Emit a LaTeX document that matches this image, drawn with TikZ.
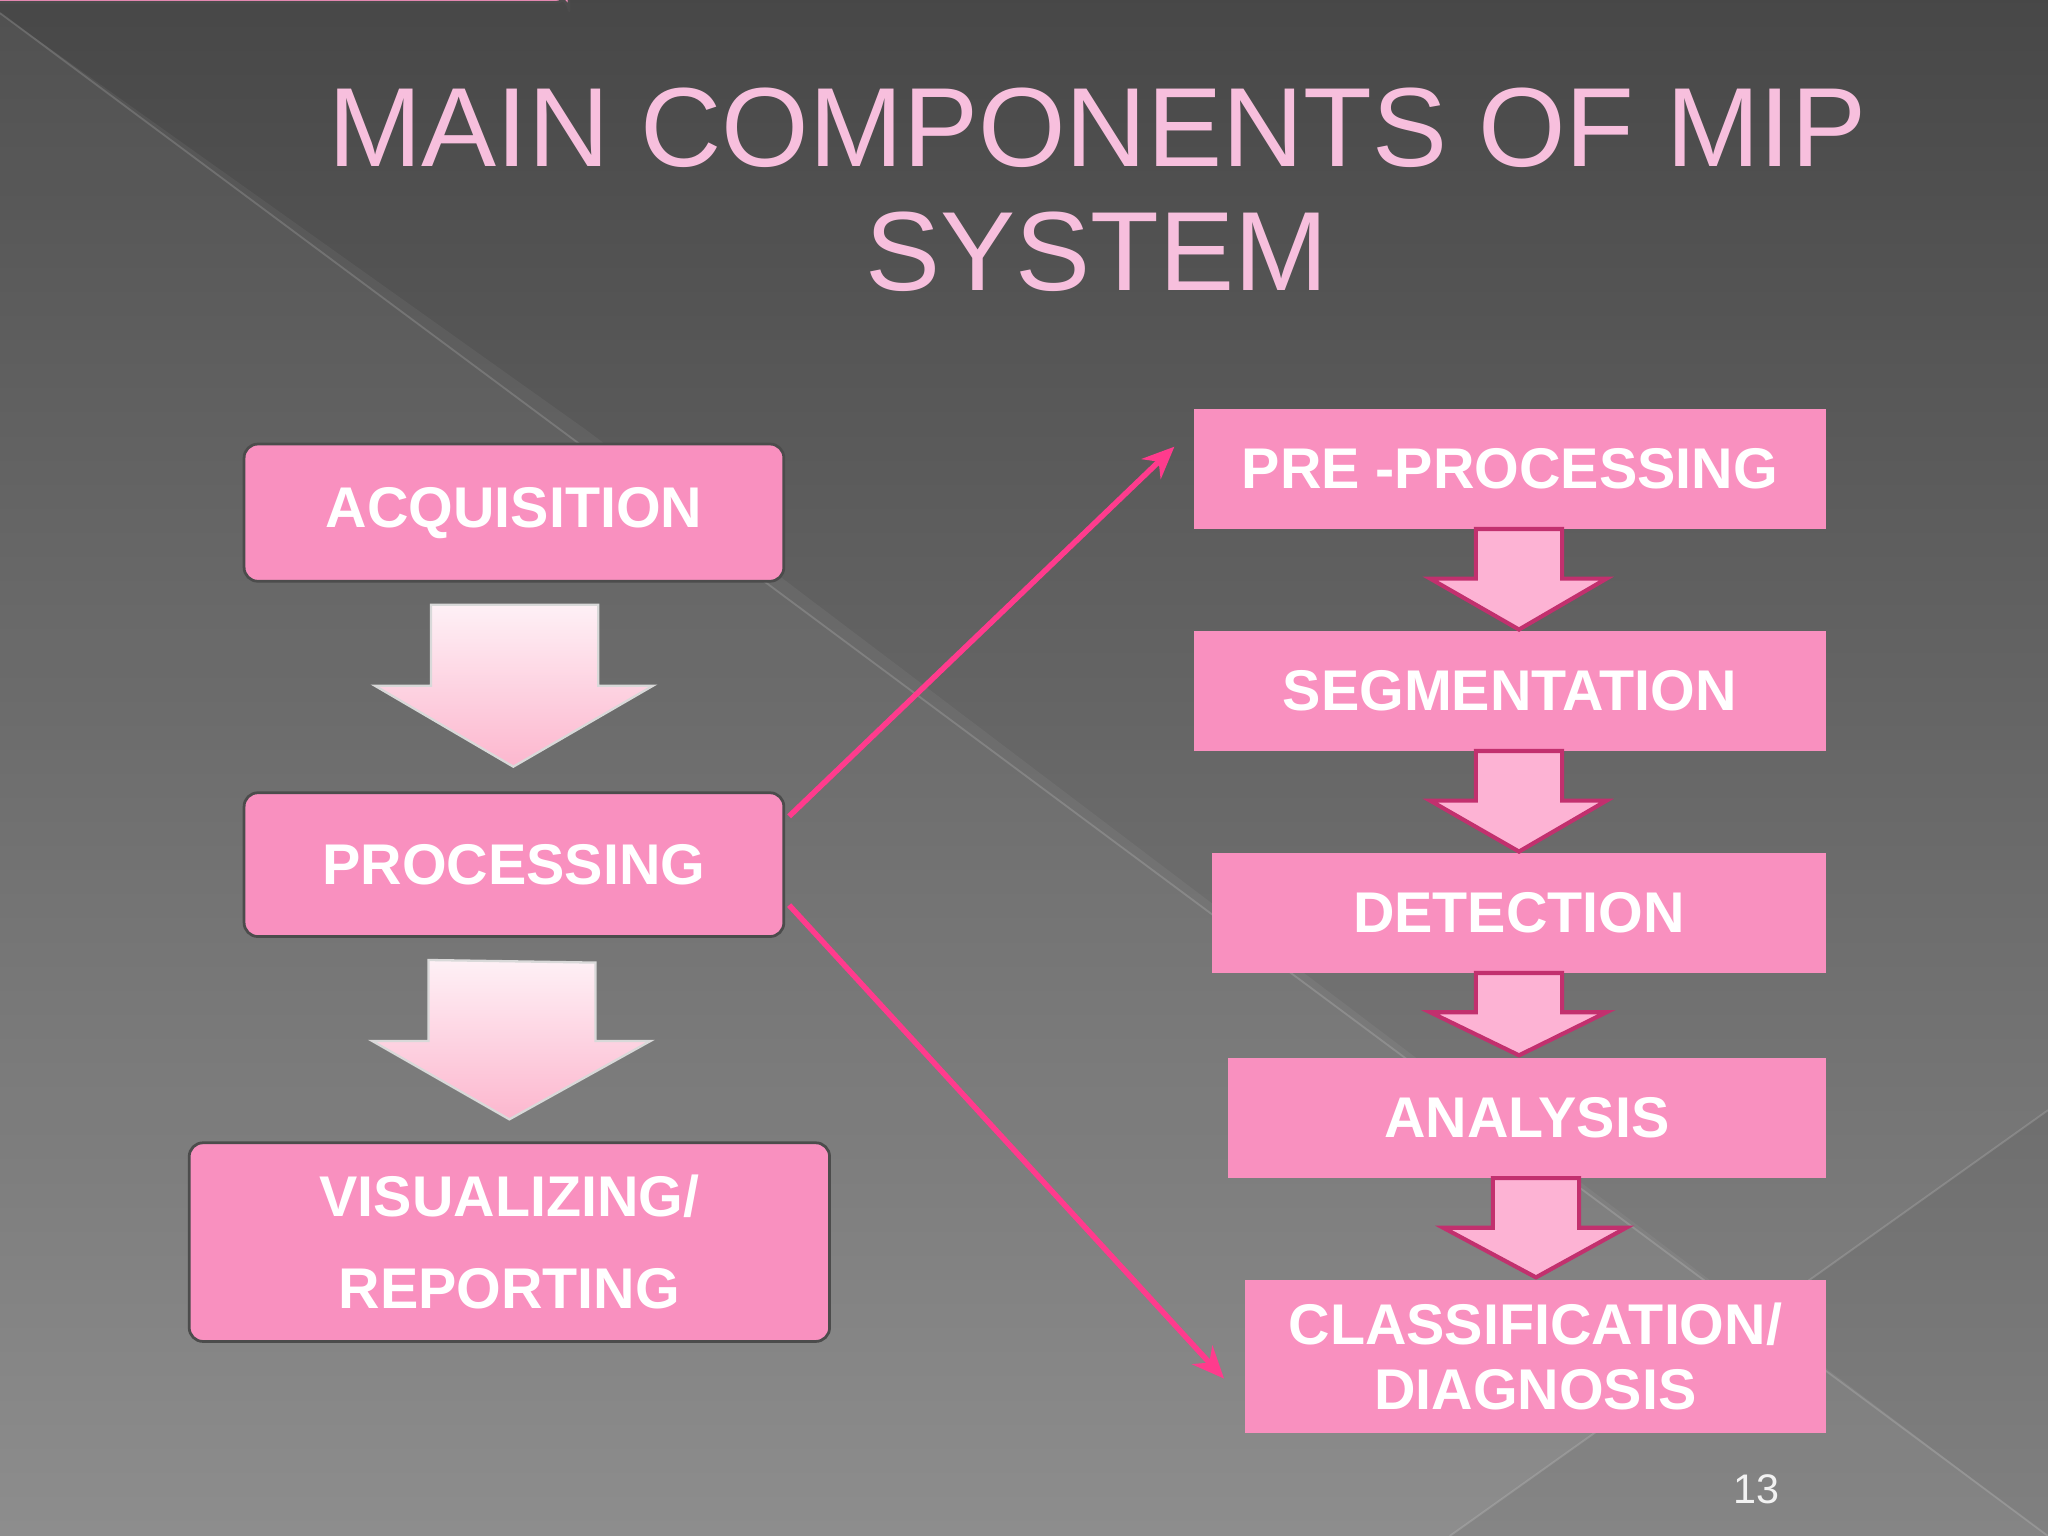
\documentclass[tikz,border=0pt]{standalone}
\usepackage{fontspec}
\setmainfont{Liberation Sans}
\usetikzlibrary{arrows.meta}
\definecolor{bpink}{HTML}{F990BF}
\definecolor{tpink}{HTML}{F7BFDD}
\definecolor{lpink}{HTML}{FCB6D0}
\definecolor{cpink}{HTML}{FF3B8D}
\definecolor{apink}{HTML}{FDB3D4}
\definecolor{aedge}{HTML}{C2306E}
\begin{document}
\begin{tikzpicture}[x=0.01cm,y=-0.01cm,
  lbox/.style={draw=black!70,line width=0.6pt,rounded corners=3pt,fill=bpink,text=white,font=\bfseries\fontsize{12.5}{20}\selectfont,align=center,inner sep=0pt},
  rbox/.style={fill=bpink,text=white,font=\bfseries\fontsize{12.5}{14}\selectfont,align=center,inner sep=0pt},
  barrow/.style={top color=white!80!lpink,bottom color=lpink!90!pink,draw=white!70!gray,line width=0.5pt},
  sarrow/.style={fill=apink,draw=aedge,line width=0.9pt},
  conn/.style={draw=cpink,line width=1.2pt,-{Stealth[length=7pt,width=6pt]}}]
\useasboundingbox (0,0) rectangle (1568,1176);
\shade[top color=black!72,bottom color=black!47] (0,0) rectangle (1568,1176);
\fill[white,opacity=0.05] (0,10) -- (450,330) -- (1568,1176) -- (0,1176) -- cycle;
\fill[black,opacity=0.05] (0,0) -- (1568,0) -- (1568,850) -- (1110,1176) -- (1568,1176) -- (1568,0);
\draw[white,opacity=0.15] (0,10) -- (1568,1176);
\draw[white,opacity=0.15] (1568,850) -- (1110,1176);
\node[text=tpink,font=\fontsize{24.5}{27}\selectfont,align=center] (title) at (840,145) {MAIN COMPONENTS OF MIP\\SYSTEM};
\node[lbox,minimum width=413\pgflinewidth] at (0,0) {}; % placeholder removed visually
\node[lbox,minimum width=4.13cm,minimum height=1.05cm] (acq) at (393.5,392.5) {ACQUISITION};
\node[lbox,minimum width=4.13cm,minimum height=1.10cm] (proc) at (393.5,662) {PROCESSING};
\node[lbox,minimum width=4.90cm,minimum height=1.52cm] (vis) at (390,951) {VISUALIZING/\\REPORTING};
\draw[barrow] (330,463) -- (458,463) -- (458,525) -- (500,525) -- (393,587) -- (287,525) -- (330,525) -- cycle;
\draw[barrow] (328,735) -- (456,737) -- (456,797) -- (498,797) -- (390,857) -- (285,797) -- (328,797) -- cycle;
\node[rbox,minimum width=4.84cm,minimum height=0.92cm] (pre) at (1156,359) {PRE -PROCESSING};
\node[rbox,minimum width=4.84cm,minimum height=0.92cm] (seg) at (1156,529) {SEGMENTATION};
\node[rbox,minimum width=4.70cm,minimum height=0.92cm] (det) at (1163,699) {DETECTION};
\node[rbox,minimum width=4.58cm,minimum height=0.92cm] (ana) at (1169,856) {ANALYSIS};
\node[rbox,minimum width=4.45cm,minimum height=1.17cm] (cla) at (1175.5,1038.5) {CLASSIFICATION/\\DIAGNOSIS};
\draw[sarrow] (1130,405) -- (1196,405) -- (1196,443) -- (1230,443) -- (1163,482) -- (1095,443) -- (1130,443) -- cycle;
\draw[sarrow] (1130,575) -- (1196,575) -- (1196,613) -- (1230,613) -- (1163,652) -- (1095,613) -- (1130,613) -- cycle;
\draw[sarrow] (1130,745) -- (1196,745) -- (1196,775) -- (1230,775) -- (1163,808) -- (1095,775) -- (1130,775) -- cycle;
\draw[sarrow] (1143,902) -- (1209,902) -- (1209,940) -- (1245,940) -- (1176,978) -- (1105,940) -- (1143,940) -- cycle;
\draw[conn] ([shift={(3,-37)}]proc.east) -- ([shift={(-14,-17)}]pre.west);
\draw[conn] ([shift={(3,31)}]proc.east) -- ([shift={(-15,17)}]cla.west);
\node[text=white!90!gray,font=\fontsize{9}{10}\selectfont] (pg) at (1345,1140) {13};
\end{tikzpicture}
\end{document}
